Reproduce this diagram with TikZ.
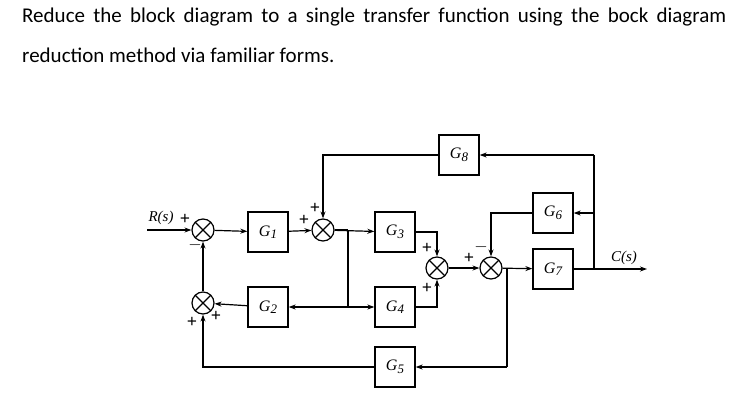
\documentclass[tikz,border=0pt]{standalone}
\usepackage{fontspec}
\setmainfont{Carlito}
\newfontfamily\serf{Liberation Serif}
\usetikzlibrary{arrows.meta}
\newcommand{\gb}[1]{G\raisebox{-2.5pt}{\fontsize{13}{13}\selectfont #1}}
\begin{document}
\begin{tikzpicture}[x=1pt,y=-1pt,
  blk/.style={draw,line width=1.3pt,minimum width=40pt,minimum height=40pt,inner sep=0pt,font=\serf\itshape\fontsize{16}{16}\selectfont},
  sj/.style={draw,circle,line width=1.2pt,minimum size=22pt,inner sep=0pt,path picture={\draw[line width=1.1pt] (path picture bounding box.north west)--(path picture bounding box.south east) (path picture bounding box.north east)--(path picture bounding box.south west);}},
  ln/.style={line width=1.2pt},
  ar/.style={ln,-{Stealth[length=7pt,width=5pt]}},
  sg/.style={font=\serf\bfseries\fontsize{18}{18}\selectfont,inner sep=0pt}]
\useasboundingbox (0,0) rectangle (741,404);
\node[anchor=north west,inner sep=0pt,align=justify,text width=704pt,font=\fontsize{21}{40}\selectfont] (title) at (22,8)
 {Reduce the block diagram to a single transfer function using the bock diagram\linebreak reduction method via familiar forms.};
\node[sj] (s1) at (203,230) {};
\node[blk] (g1) at (268,232) {\gb{1}};
\node[sj] (s2) at (323,230) {};
\node[blk] (g3) at (395,232) {\gb{3}};
\node[blk] (g2) at (268,307) {\gb{2}};
\node[sj] (s4) at (203,303) {};
\node[blk] (g4) at (395,307) {\gb{4}};
\node[blk] (g5) at (395,367) {\gb{5}};
\node[blk] (g8) at (459,155) {\gb{8}};
\node[sj] (s3) at (437,268) {};
\node[sj] (s5) at (491,268) {};
\node[blk] (g6) at (553,213) {\gb{6}};
\node[blk] (g7) at (553,269) {\gb{7}};
\coordinate (rin) at (147,230);
\coordinate (br) at (348,230);
\coordinate (po) at (594,269);
\coordinate (out) at (647,269);
\coordinate (bo) at (507,268);
\draw[ar] (rin) -- (s1);
\draw[ar] (s1) -- (g1);
\draw[ar] (g1) -- (s2);
\draw[ar] (s2) -- (g3);
\draw[ln] (s2) -- (br);
\draw[ln] (br) -- (br|-g2);
\draw[ar] (br|-g2) -- (g2);
\draw[ar] (br|-g4) -- (g4);
\draw[ar] (g2) -- (s4);
\draw[ar] (s4) -- (s1);
\draw[ar] (g3.east) -| (s3);
\draw[ar] (g4.east) -| (s3);
\draw[ar] (s3) -- (s5);
\draw[ar] (s5) -- (g7);
\draw[ar] (g7) -- (out);
\draw[ln] (po) -- (po|-g8);
\draw[ar] (po|-g8) -- (g8);
\draw[ar] (po|-g6) -- (g6);
\draw[ar] (g8.west) -| (s2);
\draw[ar] (g6.west) -| (s5);
\draw[ln] (bo) -- (bo|-g5);
\draw[ar] (bo|-g5) -- (g5);
\draw[ar] (g5.west) -| (s4);
\node[sg,font=\serf\itshape\fontsize{15}{15}\selectfont] (rl) at (161,218) {R(s)};
\node[sg] (p1) at (185,219) {+};
\node[sg] (m1) at (195,245) {$-$};
\node[sg] (p2) at (304,220) {+};
\node[sg] (p3) at (315,208) {+};
\node[sg] (p4) at (216,316) {+};
\node[sg] (p5) at (192,322) {+};
\node[sg] (p6) at (427,248) {+};
\node[sg] (p7) at (427,288) {+};
\node[sg] (p8) at (469,258) {+};
\node[sg] (m2) at (481,247) {$-$};
\node[sg,font=\serf\itshape\fontsize{15}{15}\selectfont] (cl) at (624,258) {C(s)};
\end{tikzpicture}
\end{document}
